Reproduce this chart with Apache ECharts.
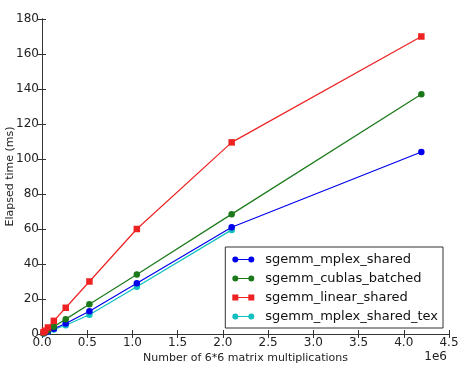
<!DOCTYPE html>
<html><head><meta charset="utf-8">
<script src="https://cdn.jsdelivr.net/npm/echarts@6/dist/echarts.min.js"></script>
<style>html,body{margin:0;padding:0;background:#fff}#c{width:474px;height:366px}</style>
</head><body><div id="c"></div>
<script>
const xValues = [16384, 32768, 65536, 131072, 262144, 524288, 1048576, 2097152, 4194304];
const mplexShared = [0.4, 0.8, 1.5, 3.0, 6.0, 13, 29, 61, 104];
const cublasBatched = [0.5, 1.1, 2.1, 4.2, 8.5, 17, 34, 68.5, 137];
const linearShared = [1.0, 1.9, 3.7, 7.5, 15, 30, 60, 109.5, 170];
const mplexSharedTex = [0.3, 0.7, 1.3, 2.6, 5.0, 11, 27, 59.5];
const seriesNames = ['sgemm_mplex_shared', 'sgemm_cublas_batched', 'sgemm_linear_shared', 'sgemm_mplex_shared_tex'];
const xTicks = ['0.0','0.5','1.0','1.5','2.0','2.5','3.0','3.5','4.0','4.5'];

const font = 'DejaVu Sans';
const chart = echarts.init(document.getElementById('c'), null, {renderer: 'canvas'});
function pairs(vals) { return vals.map((v, i) => [xValues[i], v]); }
const colors = ['#0000ee', '#1a7a1a', '#ee2222', '#10bfbf'];
const symbols = ['circle', 'circle', 'rect', 'circle'];
const circIcon = 'path://M0,3A3,3 0 1,1 6,3A3,3 0 1,1 0,3Z M16,3A3,3 0 1,1 22,3A3,3 0 1,1 16,3Z M5,2.4H17V3.6H5Z';
const rectIcon = 'path://M0,0H6V6H0Z M16,0H22V6H16Z M5,2.4H17V3.6H5Z';
const datas = [mplexShared, cublasBatched, linearShared, mplexSharedTex];
const axisLine = {show: true, lineStyle: {color: '#333', width: 1}};
const tick = {show: true, inside: true, length: 4, lineStyle: {color: '#333'}};
chart.setOption({
  animation: false,
  grid: {left: 42, right: 25, top: 19, bottom: 32, containLabel: false, outerBoundsMode: 'none'},
  legend: {
    right: 31, bottom: 38, orient: 'vertical', itemGap: 6,
    itemWidth: 22, itemHeight: 6,
    borderColor: '#333', borderWidth: 1, padding: [6, 5, 5, 7],
    textStyle: {fontFamily: font, fontSize: 13, color: '#111', padding: [0, 0, 0, 6]},
    data: seriesNames.map((n, i) => ({name: n, icon: symbols[i] === 'rect' ? rectIcon : circIcon}))
  },
  xAxis: [{
    type: 'value', min: 0, max: 4500000, interval: 500000, position: 'bottom',
    axisLine, axisTick: tick, splitLine: {show: false},
    axisLabel: {fontFamily: font, fontSize: 12, color: '#222', margin: 3,
      formatter: v => xTicks[Math.round(v / 500000)]},
    name: 'Number of 6*6 matrix multiplications', nameLocation: 'middle', nameGap: 19,
    nameMoveOverlap: false,
    nameTextStyle: {fontFamily: font, fontSize: 11, color: '#222'}
  }, {
    type: 'value', min: 0, max: 4500000, interval: 500000, position: 'top',
    axisLine, axisTick: tick, axisLabel: {show: false}, splitLine: {show: false}
  }],
  yAxis: [{
    type: 'value', min: 0, max: 180, interval: 20, position: 'left',
    axisLine, axisTick: tick, splitLine: {show: false},
    axisLabel: {fontFamily: font, fontSize: 12, color: '#222', margin: 3},
    name: 'Elapsed time (ms)', nameLocation: 'middle', nameGap: 26,
    nameMoveOverlap: false,
    nameTextStyle: {fontFamily: font, fontSize: 11, color: '#222'}
  }, {
    type: 'value', min: 0, max: 180, interval: 20, position: 'right',
    axisLine, axisTick: tick, axisLabel: {show: false}, splitLine: {show: false}
  }],
  graphic: [{type: 'text', right: 27, bottom: 3,
    style: {text: '1e6', font: '12px "DejaVu Sans"', fill: '#222'}}],
  series: datas.map((d, i) => ({
    name: seriesNames[i], type: 'line', data: pairs(d),
    symbol: symbols[i], symbolSize: 6.5, showSymbol: true,
    itemStyle: {color: colors[i]}, lineStyle: {color: colors[i], width: 1.2},
    z: i === 3 ? 1 : 2
  }))
});
</script></body></html>
